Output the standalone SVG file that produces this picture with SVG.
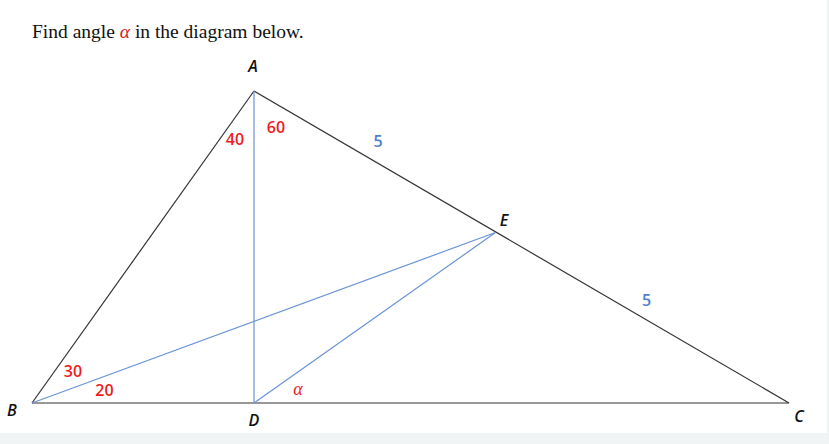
<svg xmlns="http://www.w3.org/2000/svg" width="829" height="444" viewBox="0 0 829 444">
<style>
.blk{stroke:#333;stroke-width:1.2;fill:none}
.blu{stroke:#6a93d8;stroke-width:1.2;fill:none}
.pt{font-family:"Open Sans","Liberation Sans",Arial,sans-serif;font-style:italic;font-weight:600;font-size:16px;fill:#111}
.ang{font-family:"Open Sans","Liberation Sans",Arial,sans-serif;font-weight:600;font-size:16px;fill:#ee1c1c}
.len{font-family:"Open Sans","Liberation Sans",Arial,sans-serif;font-weight:600;font-size:16px;fill:#4f7fd0}
</style>
<rect x="0" y="0" width="829" height="444" fill="#ffffff"/>
<rect x="0" y="433" width="829" height="11" fill="#f0f4f5"/>
<rect x="827" y="0" width="2" height="444" fill="#f0f4f5"/>
<text x="32" y="37.5" font-family="Liberation Serif,Times New Roman,serif" font-size="19.5" fill="#111">Find angle <tspan fill="#d42020" font-style="italic">α</tspan> in the diagram below.</text>
<g id="connectors">
<line class="blk" x1="254" y1="91" x2="32" y2="403"/>
<line class="blk" x1="254" y1="91" x2="789" y2="403"/>
<line class="blk" x1="32" y1="403" x2="789" y2="403"/>
<line class="blu" x1="254" y1="91" x2="254" y2="403"/>
<line class="blu" x1="32" y1="403" x2="495.5" y2="232.5"/>
<line class="blu" x1="254" y1="403" x2="495.5" y2="232.5"/>
</g>
<g id="A"><text class="pt" x="253" y="71.5" text-anchor="middle">A</text></g>
<g id="B"><text class="pt" x="12" y="415.5" text-anchor="middle">B</text></g>
<g id="C"><text class="pt" x="799" y="421.5" text-anchor="middle">C</text></g>
<g id="D"><text class="pt" x="254" y="425.5" text-anchor="middle">D</text></g>
<g id="E"><text class="pt" x="504" y="225.5" text-anchor="middle">E</text></g>
<g id="angles">
<text class="ang" x="235" y="145" text-anchor="middle">40</text>
<text class="ang" x="276" y="133" text-anchor="middle">60</text>
<text class="ang" x="73" y="377" text-anchor="middle">30</text>
<text class="ang" x="104.5" y="396" text-anchor="middle">20</text>
<text x="298" y="395" text-anchor="middle" font-family="Liberation Serif,Times New Roman,serif" font-style="italic" font-size="18" fill="#ee1c1c">α</text>
</g>
<g id="lengths">
<text class="len" x="378" y="147" text-anchor="middle">5</text>
<text class="len" x="646.5" y="306" text-anchor="middle">5</text>
</g>
</svg>
